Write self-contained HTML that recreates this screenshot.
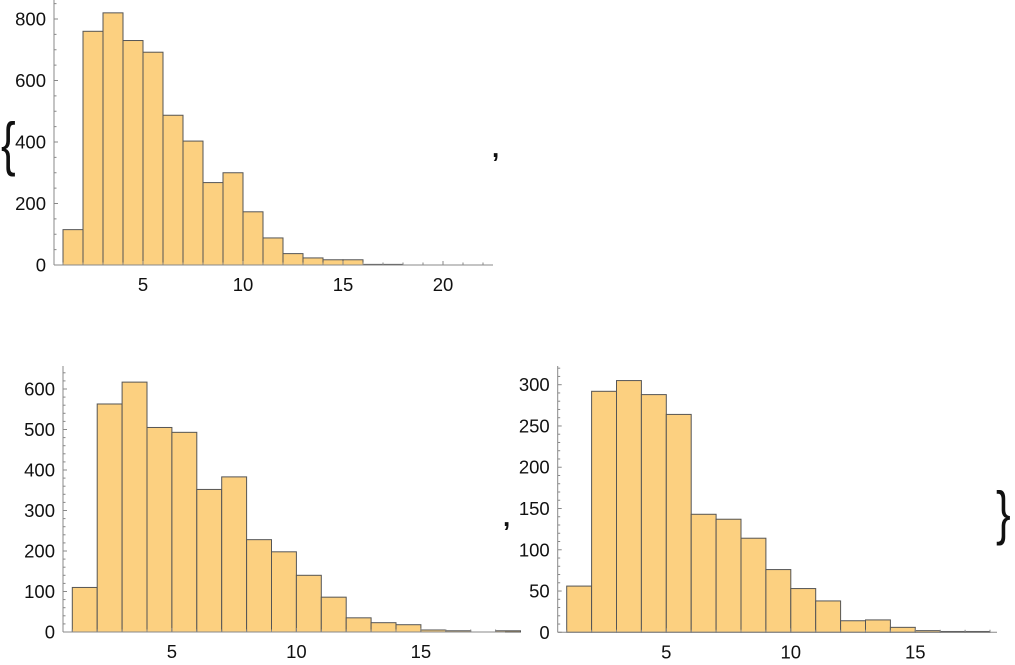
<!DOCTYPE html>
<html><head><meta charset="utf-8"><style>
html,body{margin:0;padding:0;background:#fff;width:1015px;height:665px;overflow:hidden}
svg{display:block}
text{font-family:"Liberation Sans",sans-serif;fill:#111}
</style></head><body>
<svg id="s" width="1015" height="665" xmlns="http://www.w3.org/2000/svg">
<text transform="translate(1,164) scale(1,1.35)" font-size="44" font-weight="300">{</text>
<text x="492" y="157" font-size="26" font-weight="bold">,</text>
<text x="503" y="526" font-size="26" font-weight="bold">,</text>
<text transform="translate(996,533) scale(1,1.35)" font-size="44" font-weight="300">}</text>
</svg>
<script>
const s=document.getElementById('s');const NS='http://www.w3.org/2000/svg';
function el(t,a,txt){const e=document.createElementNS(NS,t);for(const k in a)e.setAttribute(k,a[k]);if(txt!==undefined)e.textContent=txt;s.appendChild(e);return e;}
function chart(o){
 const {ax,base,top,right,x0,u,sy,vals,yt,ymin,xt,xmin}=o;
 const X=v=>x0+(v-1)*u;
 vals.forEach((h,i)=>{if(h<=0)return;const y=base-h*sy;el('rect',{x:X(i+1),y:y,width:u,height:base-y,fill:'#fcd080',stroke:'#555','stroke-width':1});});
 el('line',{x1:ax,y1:top,x2:ax,y2:base,stroke:'#888','stroke-width':1});
 el('line',{x1:ax,y1:base,x2:right,y2:base,stroke:'#888','stroke-width':1});
 for(let v=0;base-v*sy>=top;v+=ymin){const y=base-v*sy;const maj=Math.abs(v/yt-Math.round(v/yt))<1e-6;
  el('line',{x1:ax,y1:y,x2:ax+(maj?4:2.5),y2:y,stroke:'#888'});
  if(maj)el('text',{x:ax-8,y:y+6.5,'font-size':18.5,'text-anchor':'end'},String(v));}
 for(let v=Math.ceil((1+(ax-x0)/u)/xmin)*xmin;X(v)<=right;v+=xmin){const x=X(v);const maj=v%xt===0;
  el('line',{x1:x,y1:base,x2:x,y2:base-(maj?4:2.5),stroke:'#888'});
  if(maj)el('text',{x:x,y:base+26,'font-size':18.5,'text-anchor':'middle'},String(v));}
}
chart({ax:54,base:265,top:0,right:493,x0:63,u:20,sy:246/800,
 vals:[115,760,820,730,692,487,403,268,300,173,88,37,23,17,17,2,2],yt:200,ymin:50,xt:5,xmin:1});
chart({ax:63,base:632,top:366,right:505,x0:72.3,u:24.9,sy:243/600,
 vals:[110,563,617,505,493,352,383,228,198,140,86,35,23,18,5,3,0,3],yt:100,ymin:20,xt:5,xmin:1});
chart({ax:557.7,base:632.3,top:366,right:997,x0:566.7,u:24.9,sy:247.6/300,
 vals:[56,292,305,288,264,143,137,114,76,53,38,14,15,6,2,1,1],yt:50,ymin:10,xt:5,xmin:1});
</script>
</body></html>
